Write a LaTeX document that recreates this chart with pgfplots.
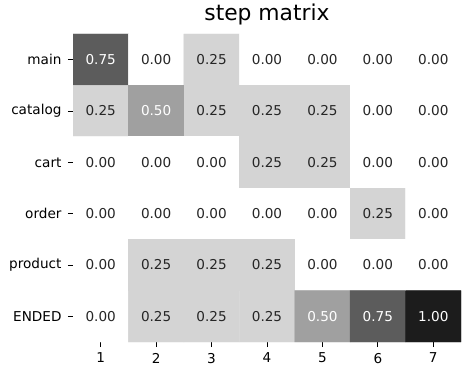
\documentclass[border=0pt]{standalone}
\usepackage{pgfplots}
\pgfplotsset{compat=1.18}
\usepackage{pgfplotstable}
\usetikzlibrary{calc}
\usepackage{fontspec}
\setmainfont{DejaVu Sans}
\definecolor{txt}{HTML}{262626}
\pgfplotstableread{
x y c
1 0 0.75
2 0 0.00
3 0 0.25
4 0 0.00
5 0 0.00
6 0 0.00
7 0 0.00
1 1 0.25
2 1 0.50
3 1 0.25
4 1 0.25
5 1 0.25
6 1 0.00
7 1 0.00
1 2 0.00
2 2 0.00
3 2 0.00
4 2 0.25
5 2 0.25
6 2 0.00
7 2 0.00
1 3 0.00
2 3 0.00
3 3 0.00
4 3 0.00
5 3 0.00
6 3 0.25
7 3 0.00
1 4 0.00
2 4 0.25
3 4 0.25
4 4 0.25
5 4 0.00
6 4 0.00
7 4 0.00
1 5 0.00
2 5 0.25
3 5 0.25
4 5 0.25
5 5 0.50
6 5 0.75
7 5 1.00
}\datatable
\begin{document}
\begin{tikzpicture}
\begin{axis}[
  width=388bp, height=308bp, scale only axis,
  xmin=0.5, xmax=7.5, ymin=-0.5, ymax=5.5,
  y dir=reverse,
  enlargelimits=false,
  axis line style={draw=none},
  xtick={1,2,3,4,5,6,7},
  ytick={0,1,2,3,4,5},
  yticklabels={main,catalog,cart,order,product,ENDED},
  xtick pos=bottom, ytick pos=left,
  tick align=outside,
  major tick length=5bp,
  tick style={black, line width=0.9bp},
  /pgf/number format/assume math mode=true,
  ticklabel style={font=\fontsize{13.6bp}{16bp}\selectfont, text=black},
  yticklabel style={xshift=-3bp},
  xticklabel style={yshift=-2.5bp},
  title={step matrix},
  title style={font=\fontsize{21.8bp}{26bp}\selectfont, at={(0.5,1)}, anchor=base, yshift=8bp},
  colormap={steps}{rgb255(0)=(255,255,255) rgb255(1)=(212,212,212) rgb255(2)=(160,160,160) rgb255(3)=(92,92,92) rgb255(4)=(28,28,28)},
  point meta min=0, point meta max=1,
]
\addplot[matrix plot*, mesh/cols=7, point meta=explicit, draw=none] table[x=x, y=y, meta=c] {\datatable};
\addplot[draw=none, mark=none, point meta=explicit,
  nodes near coords={\pgfmathtruncatemacro\v{\pgfplotspointmetatransformed}\ifnum\v>400 \color{white}\else\color{txt}\fi\pgfmathprintnumber[fixed,fixed zerofill,precision=2]{\pgfplotspointmeta}},
  nodes near coords align=center,
  every node near coord/.append style={font=\fontsize{13.6bp}{16bp}\selectfont, anchor=center}
] table[x=x, y=y, meta=c] {\datatable};
\coordinate (bl) at (axis description cs:0,0);
\coordinate (tr) at (axis description cs:1,1);
\end{axis}
\pgfresetboundingbox
\path ($(bl)+(-73bp,-34bp)$) rectangle ($(tr)+(9bp,34bp)$);
\end{tikzpicture}
\end{document}
